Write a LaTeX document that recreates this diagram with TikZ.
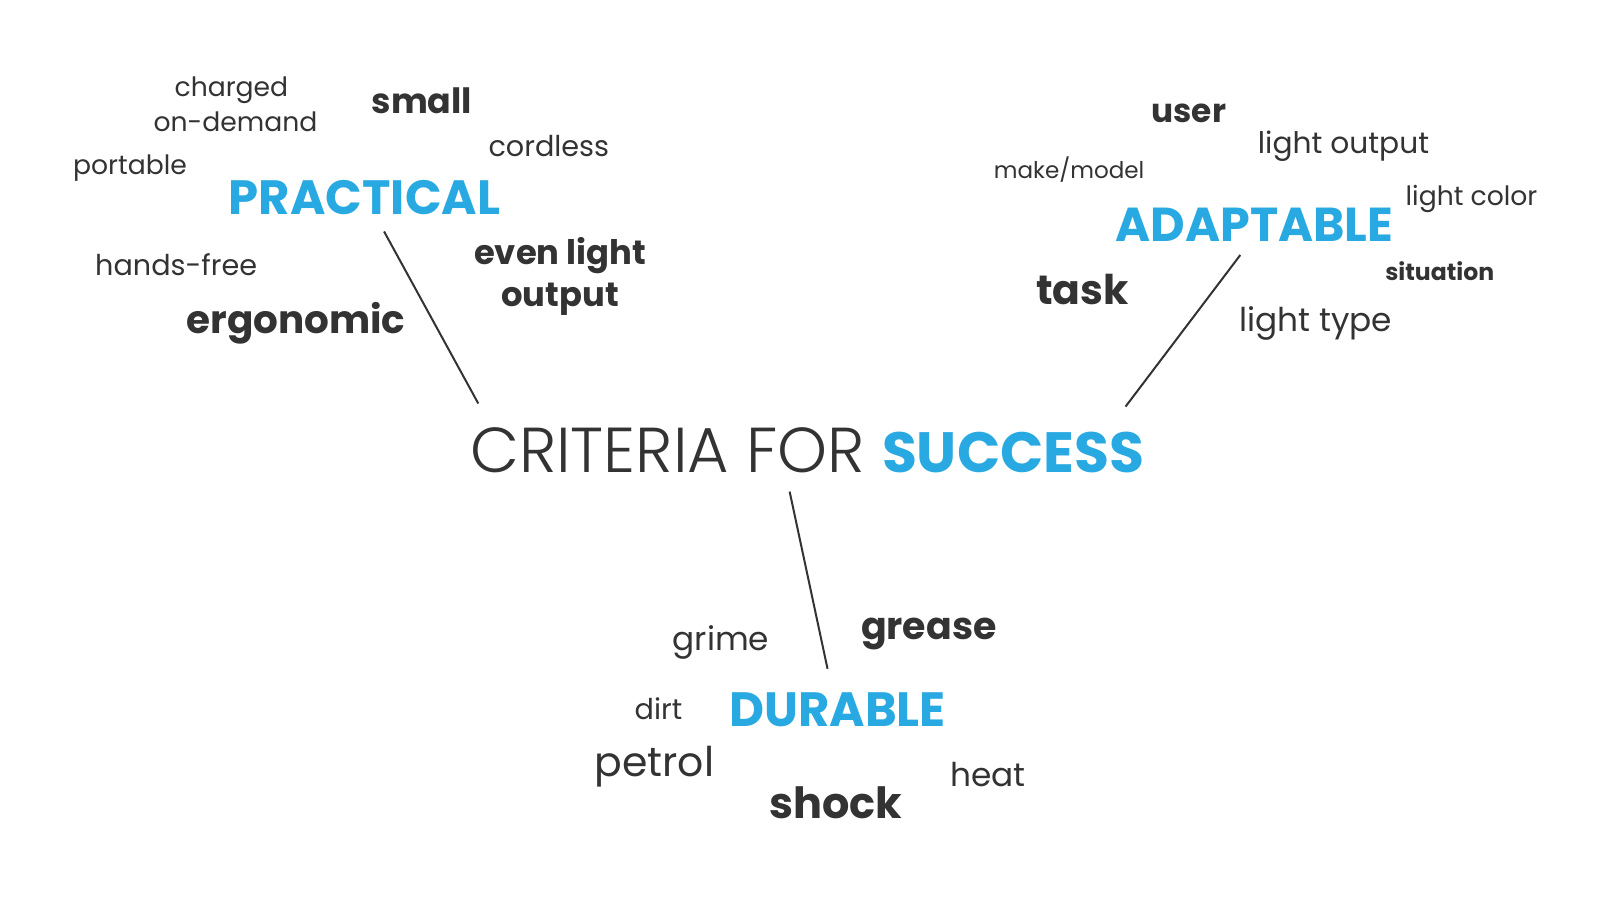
\documentclass[tikz,border=0pt]{standalone}
\usepackage{fontspec}
\setmainfont{Poppins}
\newfontfamily\thinfont{Poppins Light}
\definecolor{ink}{HTML}{333333}
\definecolor{sky}{HTML}{29A9E1}
\tikzset{
  word/.style={text=ink,inner sep=0pt,font=\fontsize{#1}{#1}\selectfont},
  heavy/.style={text=ink,inner sep=0pt,font=\fontsize{#1}{#1}\selectfont\bfseries},
  topic/.style={text=sky,inner sep=0pt,font=\fontsize{#1}{#1}\selectfont\bfseries},
  spoke/.style={draw=ink,line width=2pt},
}
\begin{document}
\begin{tikzpicture}[x=1pt,y=-1pt,scale=1.024,transform shape]
  \useasboundingbox (0,0) rectangle (1562.5,878.9);
  % centre
  \node[word=62,anchor=east,font=\fontsize{62}{62}\selectfont\thinfont] (criteria) at (845,440) {CRITERIA FOR};
  \node[topic=55.5,anchor=base west] (success) at ([xshift=16pt]criteria.base east) {SUCCESS};
  % topics
  \node[topic=47] (practical) at (356,193) {PRACTICAL};
  \node[topic=46.5] (adaptable) at (1225,220) {ADAPTABLE};
  \node[topic=47] (durable) at (818,693) {DURABLE};
  % plain words
  \foreach \t/\x/\y/\s [count=\i] in {charged/226/88/26,on-demand/230/119/26,cordless/536/143/28,
      portable/127/164/26,hands-free/172/258/28,light output/1312/143/29,light color/1437/194/26,
      light type/1285/316/32,grime/704/627/32,dirt/643/692/28,petrol/639/749/40,heat/965/756/32}{%
    \node[word=\s] (w-\i) at (\x,\y) {\t};
  }
  \node[word=22.5] (makemodel) at (1044,166) {make/model};
  % bold words
  \foreach \t/\x/\y/\s [count=\i] in {small/412/98/34,ergonomic/289/316/38,user/1161/111/32,
      situation/1406/265/23,task/1057/283/40,grease/907/619/37,shock/816/784/42}{%
    \node[heavy=\s] (b-\i) at (\x,\y) {\t};
  }
  \node[heavy=33,font=\fontsize{33}{41}\selectfont\bfseries,align=center] (evenlight) at (547,270) {even light\\output};
  % spokes
  \coordinate (practical-end) at (375,226);
  \coordinate (adaptable-end) at (1211,249);
  \coordinate (durable-end) at (808,653);
  \coordinate (criteria-left) at (467,394);
  \coordinate (success-right) at (1099,397);
  \coordinate (criteria-low) at (771,480);
  \draw[spoke] (practical-end) -- (criteria-left);
  \draw[spoke] (adaptable-end) -- (success-right);
  \draw[spoke] (criteria-low) -- (durable-end);
\end{tikzpicture}
\end{document}
